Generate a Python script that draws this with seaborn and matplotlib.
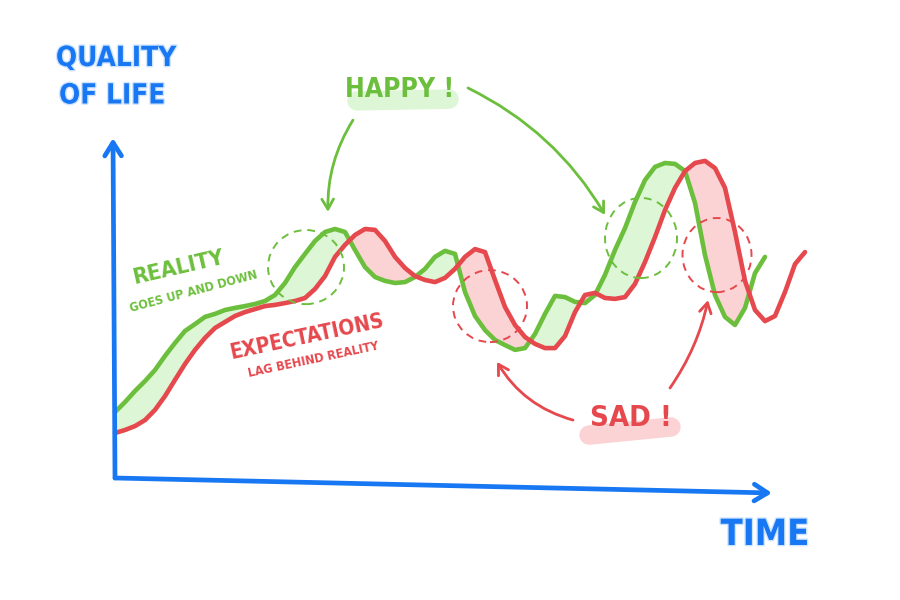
import numpy as np
import seaborn as sns
import matplotlib.pyplot as plt
import matplotlib.patheffects as pe
from matplotlib.patches import Ellipse

# values: time steps and "quality of life" levels
time = np.arange(0, 70)
reality = [22.0, 25.3, 29.0, 32.3, 36.0, 40.7, 45.0, 49.0, 51.3, 53.7,
           54.7, 56.0, 56.7, 57.3, 58.0, 59.0, 61.0, 65.0, 70.3, 74.7,
           79.0, 82.0, 83.0, 82.0, 76.0, 70.3, 67.0, 65.7, 65.0, 65.3,
           67.0, 69.7, 73.7, 75.7, 74.7, 62.0, 54.0, 49.3, 46.0, 44.3,
           42.7, 43.3, 48.0, 54.7, 60.7, 60.3, 58.7, 58.3, 61.0, 67.7,
           76.0, 83.3, 92.0, 99.3, 103.7, 105.0, 104.7, 102.3, 91.7, 74.3,
           61.0, 53.7, 51.0, 56.7, 68.3, 73.7]
expectations = [15.0, 16.0, 17.3, 19.3, 22.7, 27.3, 32.7, 38.0, 42.7, 46.7,
                50.0, 52.0, 54.0, 55.3, 56.3, 57.3, 57.7, 58.3, 59.0, 60.0,
                63.0, 67.3, 73.7, 77.7, 81.0, 83.0, 82.7, 79.0, 73.7, 70.0,
                67.3, 66.0, 65.3, 66.7, 69.7, 73.7, 76.3, 75.3, 66.0, 57.0,
                51.0, 47.0, 44.7, 43.3, 43.3, 47.3, 55.3, 61.0, 61.7, 60.0,
                59.7, 60.3, 64.7, 72.0, 80.3, 89.3, 96.7, 102.3, 105.0, 105.7,
                103.3, 96.7, 82.0, 65.7, 56.0, 52.3, 54.0, 62.0, 71.3, 75.3]
last_filled = 63

BLUE = "#1877f2"
GREEN = "#6cbf3c"
RED = "#e5484d"
LIGHT_GREEN = "#dcf6d6"
LIGHT_RED = "#fcd3d4"

sns.set_theme(style="white")
plt.rcParams["font.family"] = ["DejaVu Sans"]
plt.rcParams["font.stretch"] = "condensed"

fig = plt.figure(figsize=(9, 6), dpi=100)
ax = fig.add_axes([0, 0, 1, 1])
ax.set_xlim(-11.5, 78.5)
ax.set_ylim(-40.67, 159.33)
ax.axis("off")

# shaded gap between reality and expectations
n = len(reality)
t = time[:n]
r = np.array(reality)
e = np.array(expectations[:n])
ax.fill_between(t, r, e, where=(r >= e) & (t <= last_filled), interpolate=True, color=LIGHT_GREEN, lw=0)
ax.fill_between(t, r, e, where=(r < e) & (t <= last_filled), interpolate=True, color=LIGHT_RED, lw=0)

sns.lineplot(x=t, y=reality, color=GREEN, lw=3.3, ax=ax,
             solid_joinstyle="round", solid_capstyle="round")
sns.lineplot(x=time, y=expectations, color=RED, lw=3.3, ax=ax,
             solid_joinstyle="round", solid_capstyle="round")

# hand drawn axes
axis_arrow = dict(arrowstyle="->,head_length=0.8,head_width=0.5", lw=3.4, color=BLUE,
                  shrinkA=0, shrinkB=0, capstyle="round", joinstyle="round")
ax.annotate("", xy=(65.7, -5), xytext=(0, 0), arrowprops=axis_arrow)
ax.annotate("", xy=(-0.2, 113.3), xytext=(0, 0), arrowprops=axis_arrow)

halo = [pe.withStroke(linewidth=2, foreground="#cfe4ff")]
ax.text(0.1, 140, "QUALITY", color=BLUE, fontsize=20, fontweight="bold",
        ha="center", va="center", path_effects=halo)
ax.text(-0.3, 127.5, "OF LIFE", color=BLUE, fontsize=20, fontweight="bold",
        ha="center", va="center", path_effects=halo)
ax.text(65, -19, "TIME", color=BLUE, fontsize=26, fontweight="bold",
        ha="center", va="center", path_effects=halo)

# labels on the curves
ax.text(6.3, 70, "REALITY", color=GREEN, fontsize=16, fontweight="bold",
        ha="center", va="center", rotation=13)
ax.text(7.9, 62, "GOES UP AND DOWN", color=GREEN, fontsize=9, fontweight="bold",
        ha="center", va="center", rotation=15)
ax.text(19.2, 47, "EXPECTATIONS", color=RED, fontsize=15, fontweight="bold",
        ha="center", va="center", rotation=12)
ax.text(19.8, 39.3, "LAG BEHIND REALITY", color=RED, fontsize=9, fontweight="bold",
        ha="center", va="center", rotation=12)

# highlighter strokes behind HAPPY / SAD
ax.plot([24.2, 33.4], [125.7, 126.3], color=LIGHT_GREEN, lw=14, solid_capstyle="round", zorder=1)
ax.plot([47.4, 55.6], [14.3, 17.0], color=LIGHT_RED, lw=14, solid_capstyle="round", zorder=1)
ax.text(28.5, 129.3, "HAPPY !", color=GREEN, fontsize=19, fontweight="bold",
        ha="center", va="center", zorder=3)
ax.text(51.6, 20, "SAD !", color=RED, fontsize=21, fontweight="bold",
        ha="center", va="center", zorder=3)

# dashed circles round the happy / sad moments
circles = [((19.1, 70.3), 7.6, 24.7, GREEN), ((37.5, 57.3), 7.4, 24.0, RED),
           ((52.6, 80.0), 7.2, 26.7, GREEN), ((60.2, 74.3), 6.9, 24.7, RED)]
for center, w, h, c in circles:
    ax.add_patch(Ellipse(center, w, h, fill=False, ls=(0, (4, 3)), lw=1.4, ec=c, zorder=4))

# curved pointers
def pointer(start, end, color, rad):
    ax.annotate("", xy=end, xytext=start,
                arrowprops=dict(arrowstyle="->,head_length=0.6,head_width=0.35", lw=2,
                                color=color, shrinkA=0, shrinkB=0,
                                connectionstyle=f"arc3,rad={rad}"))

pointer((23.8, 119.3), (21.3, 88.7), GREEN, 0.15)
pointer((35.3, 130.0), (49.0, 87.7), GREEN, -0.15)
pointer((45.8, 19.3), (38.2, 38.7), RED, -0.2)
pointer((55.5, 30.0), (59.3, 59.3), RED, 0.1)

fig.savefig("out.png", dpi=100, facecolor="white")
